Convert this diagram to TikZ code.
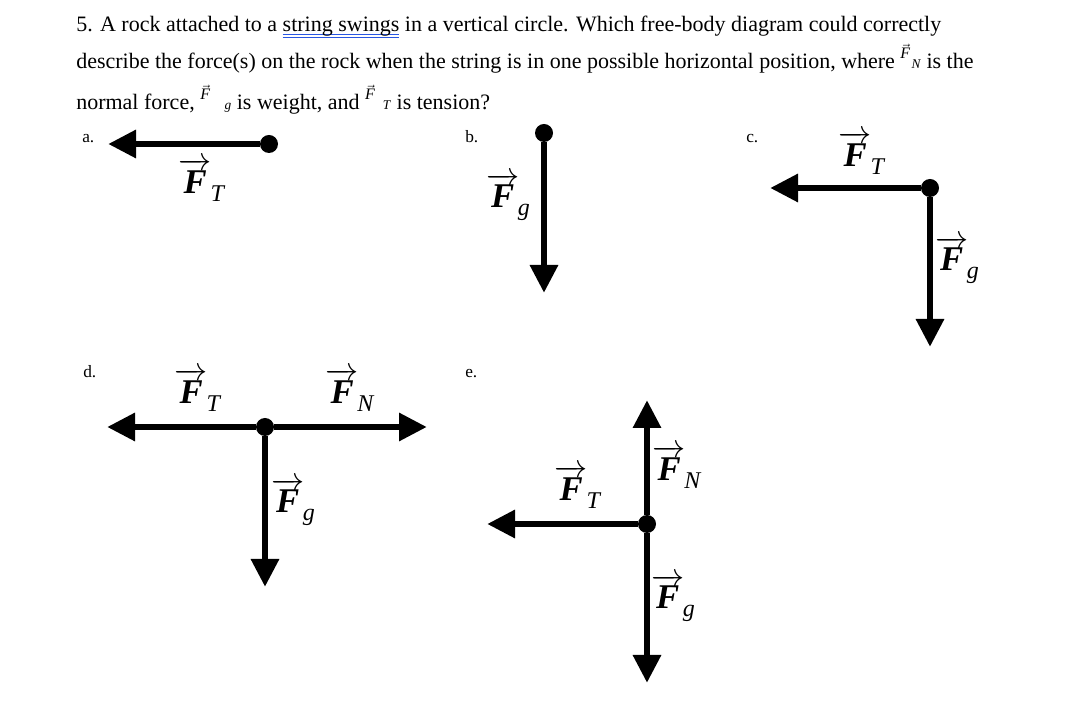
\documentclass[tikz,border=0pt]{standalone}
\usepackage{amsmath}
\usepackage{fontspec}
\setmainfont{Liberation Serif}
\usetikzlibrary{arrows.meta}
\definecolor{wordblue}{RGB}{40,85,225}

\newlength{\gramlen}
\newcommand{\fvec}[1]{$\overrightarrow{\textbf{\textit{F}}}$\kern-1pt\raisebox{-0.5ex}{\fontsize{18}{18}\selectfont\textit{#1}}}
\newcommand{\smallf}[2][1pt]{\raisebox{7.5pt}{\fontsize{12}{12}\selectfont$\vec{\textit{F}}$}\hspace{#1}{\fontsize{10}{10}\selectfont\textit{#2}}}
\newcommand{\gramerr}[1]{\settowidth{\gramlen}{#1}%
  \rlap{\color{wordblue}\rule[-2.2pt]{\gramlen}{0.6pt}}%
  \rlap{\color{wordblue}\rule[-4pt]{\gramlen}{0.6pt}}#1}

\tikzset{
  force/.style={line width=5.2pt, -{Triangle[length=21pt,width=20pt]}},
  rock/.style={circle, fill=black, inner sep=0pt, minimum size=13.5pt},
  fdlabel/.style={font=\fontsize{26}{28}\selectfont, inner sep=1pt},
  optlabel/.style={font=\fontsize{13}{15}\selectfont, anchor=base west, inner sep=0pt},
  qline/.style={font=\fontsize{16.5}{19}\selectfont, anchor=base west, inner sep=0pt}
}

\begin{document}
\begin{tikzpicture}[x=0.75pt, y=-0.75pt]
    \useasboundingbox (0,0) rectangle (1090,712);

    % question
    \node[qline] (line1) at (76,32) {5. A rock attached to a \gramerr{string swings} in a vertical circle. Which free-body diagram could correctly};
    \node[qline] (line2) at (76,69) {describe the force(s) on the rock when the string is in one possible horizontal position, where \smallf{N} is the};
    \node[qline] (line3) at (76,110) {normal force, \smallf[11pt]{g} is weight, and \smallf[6pt]{T} is tension?};

    % a.
    \node[optlabel] (optA) at (82,143) {a.};
    \node[rock] (rockA) at (269,144) {};
    \coordinate (tipAT) at (108,144);
    \draw[force] (rockA) -- (tipAT);
    \node[fdlabel] (labAT) at (202,180) {\fvec{T}};

    % b.
    \node[optlabel] (optB) at (465,143) {b.};
    \node[rock] (rockB) at (544,133) {};
    \coordinate (tipBg) at (544,293);
    \draw[force] (rockB) -- (tipBg);
    \node[fdlabel] (labBg) at (508,197) {\fvec{g}};

    % c.
    \node[optlabel] (optC) at (746,143) {c.};
    \node[rock] (rockC) at (930,188) {};
    \coordinate (tipCT) at (770,188);
    \coordinate (tipCg) at (930,347);
    \draw[force] (rockC) -- (tipCT);
    \draw[force] (rockC) -- (tipCg);
    \node[fdlabel] (labCT) at (862,153) {\fvec{T}};
    \node[fdlabel] (labCg) at (957,260) {\fvec{g}};

    % d.
    \node[optlabel] (optD) at (83,378) {d.};
    \node[rock] (rockD) at (265,427) {};
    \coordinate (tipDT) at (107,427);
    \coordinate (tipDN) at (427,427);
    \coordinate (tipDg) at (265,587);
    \draw[force] (rockD) -- (tipDT);
    \draw[force] (rockD) -- (tipDN);
    \draw[force] (rockD) -- (tipDg);
    \node[fdlabel] (labDT) at (198,390) {\fvec{T}};
    \node[fdlabel] (labDN) at (350,390) {\fvec{N}};
    \node[fdlabel] (labDg) at (293,502) {\fvec{g}};

    % e.
    \node[optlabel] (optE) at (465,378) {e.};
    \node[rock] (rockE) at (647,524) {};
    \coordinate (tipEN) at (647,400);
    \coordinate (tipET) at (487,524);
    \coordinate (tipEg) at (647,683);
    \draw[force] (rockE) -- (tipEN);
    \draw[force] (rockE) -- (tipET);
    \draw[force] (rockE) -- (tipEg);
    \node[fdlabel] (labEN) at (677,467) {\fvec{N}};
    \node[fdlabel] (labET) at (578,487) {\fvec{T}};
    \node[fdlabel] (labEg) at (673,598) {\fvec{g}};
\end{tikzpicture}
\end{document}
